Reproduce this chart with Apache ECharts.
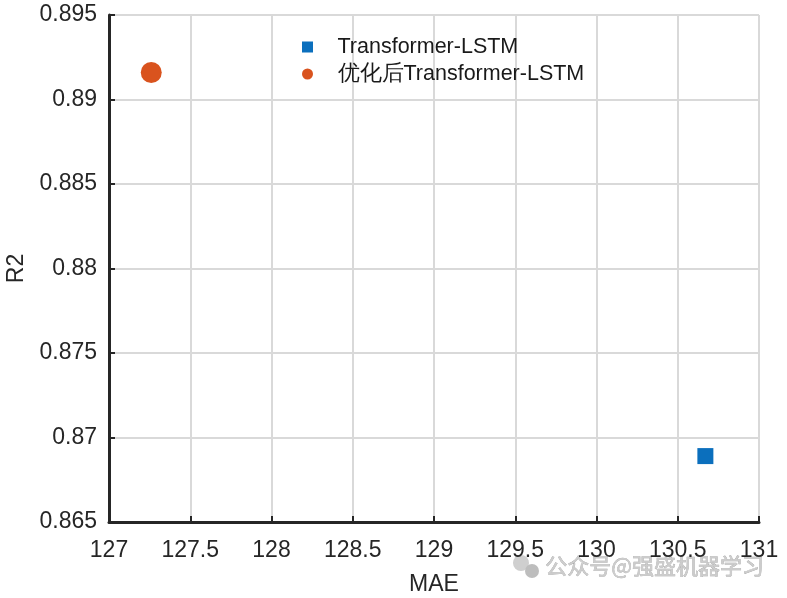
<!DOCTYPE html>
<html>
<head>
<meta charset="utf-8">
<script src="https://cdn.jsdelivr.net/npm/echarts@6/dist/echarts.min.js"></script>
<style>
html, body { margin: 0; padding: 0; background: #fff; }
#main { width: 787px; height: 598px; }
</style>
</head>
<body>
<div id="main"></div>
<script>
// 数据
var seriesNames = ['Transformer-LSTM', '优化后Transformer-LSTM'];
var maeValues = [130.67, 127.26];
var r2Values = [0.8689, 0.8916];
var xTicks = [127, 127.5, 128, 128.5, 129, 129.5, 130, 130.5, 131];
var yTicks = [0.865, 0.87, 0.875, 0.88, 0.885, 0.89, 0.895];

$init();

function $init(){
    var chart = echarts.init(document.getElementById('main'));
    var font = 'Liberation Sans, Arial, sans-serif';
    var axisColor = '#262626';

    var option = {
        animation : false,
        backgroundColor : '#fff',
        grid : { left : 109, right : 28, top : 15, bottom : 76, containLabel : false, outerBoundsMode : 'none' },
        legend : {
            orient : 'vertical',
            left : 297,
            top : 31,
            itemGap : 5,
            itemWidth : 14,
            itemHeight : 11,
            textStyle : { fontFamily : font, fontSize : 21.5, color : '#1a1a1a', padding : [0, 0, 0, 18] },
            data : [
                { name : seriesNames[0], icon : 'path://M2,2 L10,2 L10,10 L2,10 Z' },
                { name : seriesNames[1], icon : 'circle' }
            ]
        },
        xAxis : {
            type : 'value',
            min : xTicks[0],
            max : xTicks[xTicks.length - 1],
            interval : 0.5,
            name : 'MAE',
            nameLocation : 'middle',
            nameGap : 51,
            nameTextStyle : { fontFamily : font, fontSize : 23, color : '#262626' },
            axisLine : { show : true, lineStyle : { color : axisColor, width : 3 } },
            axisTick : { show : true, inside : true, length : 6, lineStyle : { color : axisColor, width : 2 } },
            axisLabel : { fontFamily : font, fontSize : 23, color : '#262626', margin : 17 },
            splitLine : { show : true, lineStyle : { color : '#d9d9d9', width : 2 } }
        },
        yAxis : {
            type : 'value',
            min : yTicks[0],
            max : yTicks[yTicks.length - 1],
            interval : 0.005,
            name : 'R2',
            nameLocation : 'middle',
            nameGap : 80,
            nameTextStyle : { fontFamily : font, fontSize : 23, color : '#262626' },
            axisLine : { show : true, lineStyle : { color : axisColor, width : 3 } },
            axisTick : { show : true, inside : true, length : 6, lineStyle : { color : axisColor, width : 2 } },
            axisLabel : {
                fontFamily : font, fontSize : 23, color : '#262626', margin : 12,
                formatter : function (v) { return String(parseFloat(v.toFixed(3))); }
            },
            splitLine : { show : true, lineStyle : { color : '#d9d9d9', width : 2 } }
        },
        series : [
            {
                name : seriesNames[0],
                type : 'scatter',
                symbol : 'rect',
                symbolSize : 16,
                itemStyle : { color : '#0b6fbd', opacity : 1 },
                data : [[maeValues[0], r2Values[0]]]
            },
            {
                name : seriesNames[1],
                type : 'scatter',
                symbol : 'circle',
                symbolSize : 21,
                itemStyle : { color : '#d9531e', opacity : 1 },
                data : [[maeValues[1], r2Values[1]]]
            }
        ],
        graphic : [
            { type : 'circle', shape : { cx : 521, cy : 563, r : 8 }, style : { fill : '#cfcfcf' } },
            { type : 'circle', shape : { cx : 532, cy : 571, r : 7 }, style : { fill : '#bdbdbd' } },
            {
                type : 'text',
                left : 545,
                top : 554,
                style : {
                    text : '公众号@强盛机器学习',
                    font : '22px "Noto Sans CJK SC", sans-serif',
                    fill : '#cccccc',
                    stroke : '#9a9a9a',
                    lineWidth : 0.5
                }
            }
        ]
    };
    chart.setOption(option);
}
</script>
</body>
</html>
